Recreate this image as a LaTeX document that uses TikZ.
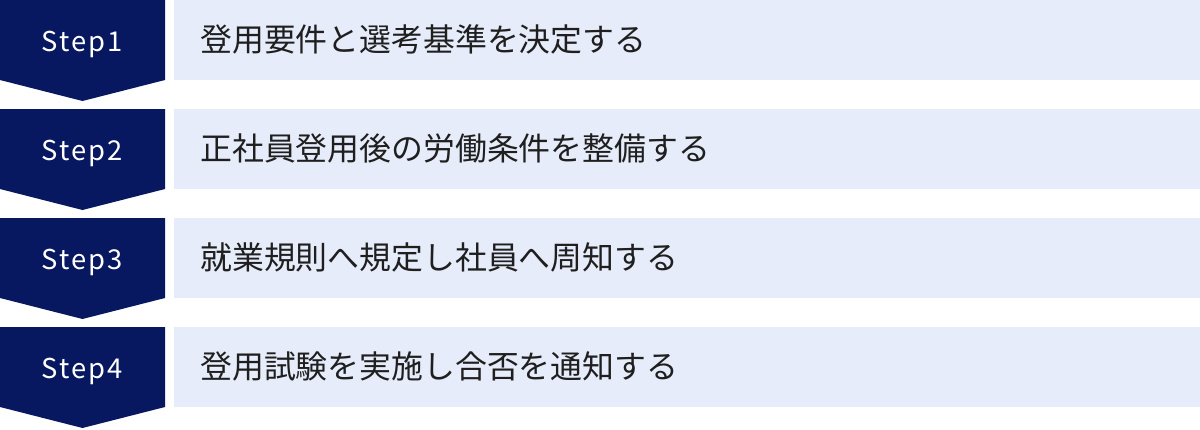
\documentclass[tikz,border=0pt]{standalone}
\usepackage{fontspec}
\setmainfont{Noto Sans CJK JP}
\newfontfamily\stepfont[LetterSpace=8]{Noto Sans CJK JP}
\usetikzlibrary{positioning}
\newcommand{\pas}{109}
\newcommand{\haut}{80}
\newcommand{\larg}{165}
\newcommand{\pointe}{21}
\newcommand{\ligne}{51}
\definecolor{bleunuit}{RGB}{8,24,96}
\definecolor{bleuclair}{RGB}{230,236,249}
\tikzstyle{etape}=[fill=bleunuit]
\tikzstyle{bande}=[fill=bleuclair]
\tikzstyle{numero}=[text=white, inner sep=0, anchor=base, font=\stepfont\fontsize{20.5}{24}\selectfont]
\tikzstyle{texte}=[text=black!88, inner sep=0, anchor=base west, font=\fontsize{23.9}{28}\selectfont]
\begin{document}
\begin{tikzpicture}[x=0.75pt,y=0.75pt]
\useasboundingbox (0,0) rectangle (1200,-429);
\foreach \I/\T in {1/登用要件と選考基準を決定する,
                   2/正社員登用後の労働条件を整備する,
                   3/就業規則へ規定し社員へ周知する,
                   4/登用試験を実施し合否を通知する}
{
\begin{scope}[shift={(0,-\I*\pas+\pas)}]
  \path[etape] (0,0) -- (\larg,0) -- (\larg,-\haut) -- (\larg/2,-\haut-\pointe) -- (0,-\haut) -- cycle;
  \path[bande] (174,0) rectangle (1200,-\haut);
  \node[numero] (step\I) at (82,-\ligne) {Step\I};
  \node[texte] (texte\I) at (200,-\ligne) {\T};
\end{scope}
}
\end{tikzpicture}
\end{document}
